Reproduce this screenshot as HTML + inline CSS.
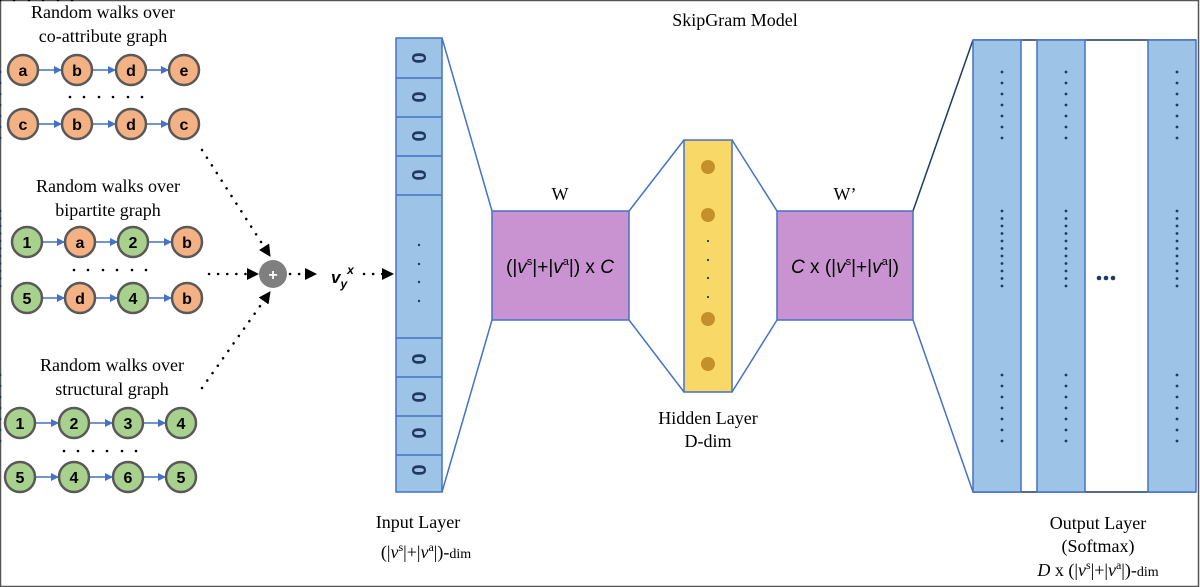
<!DOCTYPE html>
<html><head><meta charset="utf-8"><style>
html,body{margin:0;padding:0;background:#fff}
svg{display:block}
.t{font-family:"Liberation Serif",serif;font-size:18px;fill:#000;text-anchor:middle}
.n{font-family:"Liberation Sans",sans-serif;font-size:16px;font-weight:bold;fill:#000;text-anchor:middle}
.z{font-family:"Liberation Sans",sans-serif;font-size:20px;font-weight:bold;fill:#1f3864;text-anchor:middle}
.m{font-family:"Liberation Sans",sans-serif;font-size:19px;fill:#000;text-anchor:middle}
</style></head><body>
<svg width="1200" height="587" viewBox="0 0 1200 587" xmlns="http://www.w3.org/2000/svg">
<defs>
<marker id="ab" markerWidth="8" markerHeight="8" refX="7" refY="4" orient="auto" markerUnits="userSpaceOnUse"><path d="M0,0 L8,4 L0,8z" fill="#4472c4"/></marker>
<marker id="ak" markerWidth="12" markerHeight="12" refX="11" refY="6" orient="auto" markerUnits="userSpaceOnUse"><path d="M0,0 L12,6 L0,12z" fill="#000"/></marker>
</defs>
<rect x="0.5" y="0.5" width="1198" height="586" fill="none" stroke="#555" stroke-width="1.5"/>

<text class="t" x="103" y="18">Random walks over</text>
<text class="t" x="103" y="42">co-attribute graph</text>
<text class="t" x="108" y="192">Random walks over</text>
<text class="t" x="108" y="216">bipartite graph</text>
<text class="t" x="112" y="371">Random walks over</text>
<text class="t" x="112" y="395">structural graph</text>

<g stroke="#4472c4" stroke-width="1.5" marker-end="url(#ab)">
<line x1="38" y1="70" x2="61" y2="70"/><line x1="92" y1="70" x2="115" y2="70"/><line x1="146" y1="70" x2="168" y2="70"/>
<line x1="38" y1="124" x2="61" y2="124"/><line x1="92" y1="124" x2="115" y2="124"/><line x1="146" y1="124" x2="168" y2="124"/>
<line x1="42" y1="242" x2="64" y2="242"/><line x1="95" y1="242" x2="117" y2="242"/><line x1="148" y1="242" x2="171" y2="242"/>
<line x1="42" y1="298" x2="64" y2="298"/><line x1="95" y1="298" x2="117" y2="298"/><line x1="148" y1="298" x2="171" y2="298"/>
<line x1="35" y1="423" x2="58" y2="423"/><line x1="89" y1="423" x2="112" y2="423"/><line x1="143" y1="423" x2="165" y2="423"/>
<line x1="35" y1="477" x2="58" y2="477"/><line x1="89" y1="477" x2="112" y2="477"/><line x1="143" y1="477" x2="165" y2="477"/>
</g>
<g stroke="#595959" stroke-width="2.5">
<g fill="#f4b183">
<circle cx="23" cy="70" r="15"/><circle cx="77" cy="70" r="15"/><circle cx="131" cy="70" r="15"/><circle cx="184" cy="70" r="15"/>
<circle cx="23" cy="124" r="15"/><circle cx="77" cy="124" r="15"/><circle cx="131" cy="124" r="15"/><circle cx="184" cy="124" r="15"/>
<circle cx="80" cy="242" r="15"/><circle cx="187" cy="242" r="15"/>
<circle cx="80" cy="298" r="15"/><circle cx="187" cy="298" r="15"/>
</g>
<g fill="#a9d18e">
<circle cx="27" cy="242" r="15"/><circle cx="133" cy="242" r="15"/>
<circle cx="27" cy="298" r="15"/><circle cx="133" cy="298" r="15"/>
<circle cx="20" cy="423" r="15"/><circle cx="74" cy="423" r="15"/><circle cx="128" cy="423" r="15"/><circle cx="181" cy="423" r="15"/>
<circle cx="20" cy="477" r="15"/><circle cx="74" cy="477" r="15"/><circle cx="128" cy="477" r="15"/><circle cx="181" cy="477" r="15"/>
</g>
</g>
<g class="n">
<text x="23" y="76">a</text><text x="77" y="76">b</text><text x="131" y="76">d</text><text x="184" y="76">e</text>
<text x="23" y="130">c</text><text x="77" y="130">b</text><text x="131" y="130">d</text><text x="184" y="130">c</text>
<text x="27" y="248">1</text><text x="80" y="248">a</text><text x="133" y="248">2</text><text x="187" y="248">b</text>
<text x="27" y="304">5</text><text x="80" y="304">d</text><text x="133" y="304">4</text><text x="187" y="304">b</text>
<text x="20" y="429">1</text><text x="74" y="429">2</text><text x="128" y="429">3</text><text x="181" y="429">4</text>
<text x="20" y="483">5</text><text x="74" y="483">4</text><text x="128" y="483">6</text><text x="181" y="483">5</text>
</g>
<g fill="#000">
<g id="d6"><circle cx="0" cy="0" r="1.3"/><circle cx="14" cy="0" r="1.3"/><circle cx="29" cy="0" r="1.3"/><circle cx="43" cy="0" r="1.3"/><circle cx="58" cy="0" r="1.3"/><circle cx="72" cy="0" r="1.3"/></g>
<use href="#d6" x="70" y="97"/><use href="#d6" x="74" y="270"/><use href="#d6" x="64" y="451"/>
</g>

<g stroke="#000" stroke-width="2.5" stroke-dasharray="0.1 9" stroke-linecap="round" fill="none">
<line x1="202" y1="150" x2="270" y2="256" marker-end="url(#ak)"/>
<line x1="209" y1="274" x2="258" y2="274" marker-end="url(#ak)"/>
<line x1="202" y1="388" x2="270" y2="292" marker-end="url(#ak)"/>
<line x1="290" y1="274" x2="316" y2="274" marker-end="url(#ak)"/>
<line x1="364" y1="274" x2="393" y2="274" marker-end="url(#ak)"/>
</g>
<circle cx="273" cy="274" r="14" fill="#7f7f7f"/>
<text x="273" y="280" font-family="Liberation Sans,sans-serif" font-size="16" font-weight="bold" fill="#fff" text-anchor="middle">+</text>
<text x="331" y="283" font-family="Liberation Sans,sans-serif" font-size="17" font-weight="bold" font-style="italic">v<tspan font-size="12" dy="5">y</tspan><tspan font-size="12" dy="-14">x</tspan></text>

<g stroke="#4472c4" stroke-width="1.5" fill="none">
<line x1="442" y1="38" x2="492" y2="211"/><line x1="442" y1="492" x2="492" y2="320"/>
<line x1="629" y1="211" x2="684" y2="140"/><line x1="629" y1="320" x2="684" y2="392"/>
<line x1="732" y1="140" x2="777" y2="211"/><line x1="732" y1="392" x2="777" y2="320"/>
<line x1="913" y1="320" x2="973" y2="492"/>
</g>
<line x1="913" y1="211" x2="973" y2="40" stroke="#1f3864" stroke-width="1.5"/>

<rect x="396" y="38" width="46" height="454" fill="#9dc3e6" stroke="#4472c4" stroke-width="1.5"/>
<g stroke="#4472c4" stroke-width="1.5">
<line x1="396" y1="78" x2="442" y2="78"/><line x1="396" y1="117" x2="442" y2="117"/><line x1="396" y1="156" x2="442" y2="156"/><line x1="396" y1="195" x2="442" y2="195"/>
<line x1="396" y1="338" x2="442" y2="338"/><line x1="396" y1="377" x2="442" y2="377"/><line x1="396" y1="416" x2="442" y2="416"/><line x1="396" y1="455" x2="442" y2="455"/>
</g>
<g class="z">
<text transform="translate(419,58) rotate(90)" y="7">0</text>
<text transform="translate(419,97) rotate(90)" y="7">0</text>
<text transform="translate(419,136) rotate(90)" y="7">0</text>
<text transform="translate(419,175) rotate(90)" y="7">0</text>
<text transform="translate(419,359) rotate(90)" y="7">0</text>
<text transform="translate(419,397) rotate(90)" y="7">0</text>
<text transform="translate(419,433) rotate(90)" y="7">0</text>
<text transform="translate(419,470) rotate(90)" y="7">0</text>
</g>
<g fill="#1f3864"><circle cx="419" cy="245" r="1.2"/><circle cx="419" cy="264" r="1.2"/><circle cx="419" cy="282" r="1.2"/><circle cx="419" cy="301" r="1.2"/></g>

<rect x="492" y="211" width="137" height="109" fill="#c993d1" stroke="#4472c4" stroke-width="1.5"/>
<rect x="777" y="211" width="136" height="109" fill="#c993d1" stroke="#4472c4" stroke-width="1.5"/>
<text class="m" x="560" y="273">(|<tspan font-style="italic">v</tspan><tspan font-size="11" dy="-8">s</tspan><tspan dy="8">|+|</tspan><tspan font-style="italic">v</tspan><tspan font-size="11" dy="-8">a</tspan><tspan dy="8">|) x </tspan><tspan font-style="italic">C</tspan></text>
<text class="m" x="845" y="273"><tspan font-style="italic">C</tspan> x (|<tspan font-style="italic">v</tspan><tspan font-size="11" dy="-8">s</tspan><tspan dy="8">|+|</tspan><tspan font-style="italic">v</tspan><tspan font-size="11" dy="-8">a</tspan><tspan dy="8">|)</tspan></text>
<text class="t" x="560" y="200">W</text>
<text class="t" x="845" y="200">W’</text>

<rect x="684" y="140" width="48" height="252" fill="#f8d866" stroke="#4472c4" stroke-width="1.5"/>
<g fill="#c4902a"><circle cx="708" cy="167" r="7"/><circle cx="708" cy="215" r="7"/><circle cx="708" cy="319" r="7"/><circle cx="708" cy="364" r="7"/></g>
<g fill="#333"><circle cx="708" cy="241" r="1.1"/><circle cx="708" cy="260" r="1.1"/><circle cx="708" cy="278" r="1.1"/><circle cx="708" cy="297" r="1.1"/></g>
<text class="t" x="708" y="424">Hidden Layer</text>
<text class="t" x="708" y="447">D-dim</text>
<text class="t" x="735" y="26">SkipGram Model</text>

<line x1="973" y1="40" x2="1196" y2="40" stroke="#1f3864" stroke-width="1.5"/>
<line x1="973" y1="492" x2="1196" y2="492" stroke="#1f3864" stroke-width="1.5"/>
<g fill="#9dc3e6" stroke="#4472c4" stroke-width="1.5">
<rect x="973" y="40" width="48" height="452"/><rect x="1037" y="40" width="48" height="452"/><rect x="1148" y="40" width="48" height="452"/>
</g>
<g fill="#1f3864">
<g id="col">
<circle cx="0" cy="72" r="1.4"/><circle cx="0" cy="83" r="1.4"/><circle cx="0" cy="94" r="1.4"/><circle cx="0" cy="105" r="1.4"/><circle cx="0" cy="116" r="1.4"/><circle cx="0" cy="127" r="1.4"/><circle cx="0" cy="138" r="1.4"/>
<circle cx="0" cy="211" r="1.4"/><circle cx="0" cy="218.5" r="1.4"/><circle cx="0" cy="226" r="1.4"/><circle cx="0" cy="233.5" r="1.4"/><circle cx="0" cy="241" r="1.4"/><circle cx="0" cy="248.5" r="1.4"/><circle cx="0" cy="256" r="1.4"/><circle cx="0" cy="263.5" r="1.4"/><circle cx="0" cy="271" r="1.4"/><circle cx="0" cy="278.5" r="1.4"/><circle cx="0" cy="286" r="1.4"/>
<circle cx="0" cy="375" r="1.4"/><circle cx="0" cy="386" r="1.4"/><circle cx="0" cy="397" r="1.4"/><circle cx="0" cy="408" r="1.4"/><circle cx="0" cy="419" r="1.4"/><circle cx="0" cy="430" r="1.4"/><circle cx="0" cy="441" r="1.4"/>
</g>
<use href="#col" x="1002"/><use href="#col" x="1066"/><use href="#col" x="1177"/>
<circle cx="1099" cy="278" r="2.3"/><circle cx="1106" cy="278" r="2.3"/><circle cx="1113" cy="278" r="2.3"/>
</g>
<text class="t" x="1098" y="529">Output Layer</text>
<text class="t" x="1098" y="552">(Softmax)</text>
<text class="t" x="1098" y="576"><tspan font-style="italic">D</tspan> x  (|<tspan font-style="italic">v</tspan><tspan font-size="12" dy="-7">s</tspan><tspan dy="7">|+|</tspan><tspan font-style="italic">v</tspan><tspan font-size="12" dy="-7">a</tspan><tspan dy="7">|)-</tspan><tspan font-size="14">dim</tspan></text>

<text class="t" x="418" y="528">Input Layer</text>
<text class="t" x="426" y="558">(|<tspan font-style="italic">v</tspan><tspan font-size="12" dy="-7">s</tspan><tspan dy="7">|+|</tspan><tspan font-style="italic">v</tspan><tspan font-size="12" dy="-7">a</tspan><tspan dy="7">|)-</tspan><tspan font-size="14">dim</tspan></text>
</svg>
</body></html>
